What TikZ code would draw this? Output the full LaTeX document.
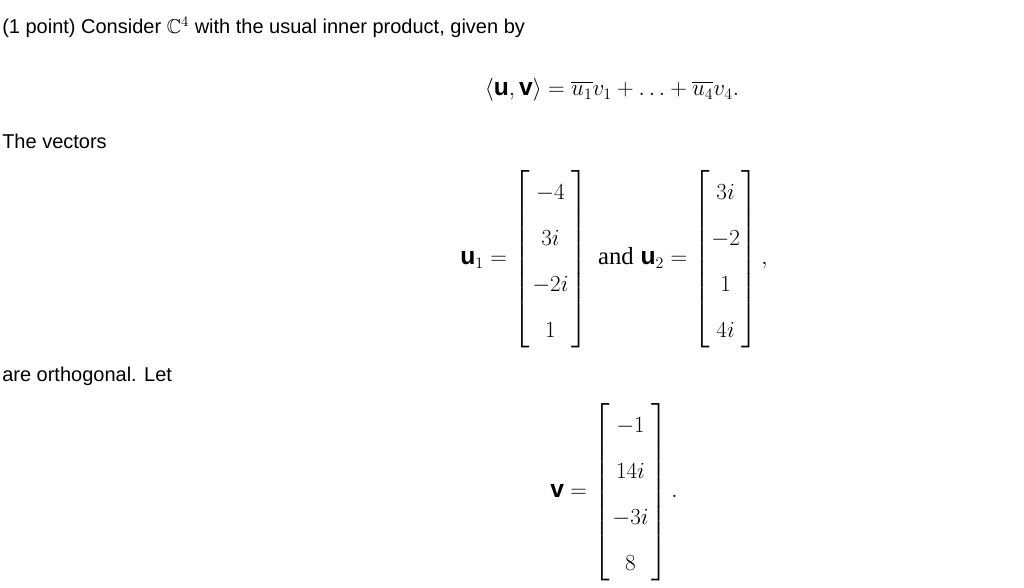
\documentclass[tikz,border=0pt]{standalone}
\usepackage{amsmath,amssymb}
\usepackage{fontspec}
\setmainfont{Liberation Sans}
\newfontfamily\mathtext{Liberation Serif}
\usetikzlibrary{positioning}

\begin{document}
\begin{tikzpicture}[x=0.75pt,y=-0.75pt,
    bodytext/.style={anchor=west,inner sep=0pt,font=\fontsize{15}{18}\selectfont},
    display/.style={inner sep=0pt,font=\fontsize{18.5}{23}\selectfont},
]
    \useasboundingbox (0,0) rectangle (1024,588);
    % prose lines
    \node[bodytext] (intro) at (2,27) {(1 point) Consider $\mathbb{C}^4$ with the usual inner product, given by};
    \node[bodytext] (vecs) at (2,141) {The vectors};
    \node[bodytext] (orth) at (2,376) {are orthogonal. Let};
    % displays
    \node[display] (inner) at (612,90)
        {$\langle \mathbf{u},\mathbf{v}\rangle = \overline{u_1}v_1 + \ldots + \overline{u_4}v_4.$};
    \node[display] (uvec) at (614,259) {\renewcommand\arraystretch{1.5}%
        $\mathbf{u}_1 = \begin{bmatrix}\;-4\;\\ 3i\\ -2i\\ 1\end{bmatrix}
        \ \text{\mathtext and}\ \mathbf{u}_2 = \begin{bmatrix}\;3i\;\\ -2\\ 1\\ 4i\end{bmatrix},$};
    \node[display] (vvec) at (614,492) {\renewcommand\arraystretch{1.5}%
        $\mathbf{v} = \begin{bmatrix}\;-1\;\\ 14i\\ -3i\\ 8\end{bmatrix}.$};
\end{tikzpicture}
\end{document}
